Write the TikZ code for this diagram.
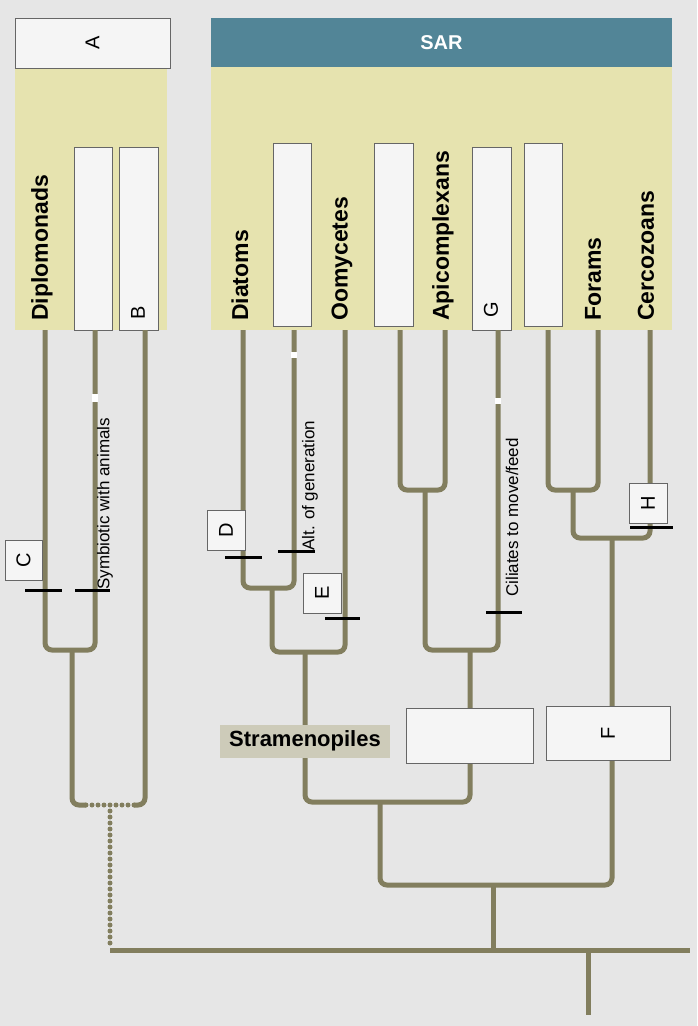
\documentclass[tikz,border=0pt]{standalone}
\usepackage{fontspec}
\setmainfont{Liberation Sans}
\usetikzlibrary{positioning}
\definecolor{bgray}{RGB}{230,230,230}
\definecolor{pyel}{RGB}{230,227,175}
\definecolor{sarblue}{RGB}{82,133,151}
\definecolor{olive}{RGB}{130,126,94}
\definecolor{lblgray}{RGB}{205,203,185}
\definecolor{boxw}{RGB}{245,245,245}
\tikzset{
  branch/.style = {draw=olive, line width=5pt, rounded corners=7pt},
  dots/.style   = {draw=olive, line width=5pt, line cap=round, dash pattern=on 0pt off 6pt},
  tick/.style   = {draw=black, line width=3pt},
  gap/.style    = {draw=white, line width=5.5pt},
  taxon/.style  = {rotate=90, anchor=west, inner sep=0pt, font=\fontsize{23}{23}\selectfont\bfseries},
  trait/.style  = {rotate=90, anchor=west, inner sep=0pt, font=\fontsize{17}{17}\selectfont},
  blank/.style  = {draw=black!60, fill=boxw, line width=0.6pt},
  letter/.style = {rotate=90, font=\fontsize{20}{20}\selectfont}
}
\begin{document}
\begin{tikzpicture}[x=1pt,y=-1pt]
\fill[bgray] (0,0) rectangle (697,1026);
\useasboundingbox (0,0) rectangle (697,1026);
% headers
\fill[pyel] (15,68) rectangle (167,330);
\draw[blank] (15,18) rectangle (170,68) node[letter, midway] (A) {A};
\fill[sarblue] (211,18) rectangle (672,67) node[midway, white, font=\fontsize{20}{20}\selectfont\bfseries] (sar) {SAR};
\fill[pyel] (211,67) rectangle (672,330);
% empty boxes
\draw[blank] (74,147) rectangle (112,330);
\draw[blank] (119,147) rectangle (158,330);
\node[letter] (B) at (138,313) {B};
\draw[blank] (273,143) rectangle (311,326);
\draw[blank] (374,143) rectangle (413,326);
\draw[blank] (472,147) rectangle (511,330);
\node[letter] (G) at (491,310) {G};
\draw[blank] (524,143) rectangle (562,326);
% taxa
\node[taxon] (dip) at (42,321) {Diplomonads};
\node[taxon] (dia) at (240,321) {Diatoms};
\node[taxon] (oom) at (342,321) {Oomycetes};
\node[taxon] (api) at (443,321) {Apicomplexans};
\node[taxon] (for) at (593,321) {Forams};
\node[taxon] (cer) at (646,321) {Cercozoans};
% diplomonad branch
\draw[branch] (45,330) -- (45,650) -- (95,650) -- (95,330);
\draw[branch] (72,650) -- (72,805) -- (86,805);
\draw[branch] (145,330) -- (145,805) -- (134,805);
\draw[dots] (86,805) -- (134,805);
\draw[dots] (110,811) -- (110,945);
\draw[branch] (110,950) -- (690,950);
\draw[branch] (588,950) -- (588,1015);
% SAR
\draw[branch] (243,330) -- (243,588) -- (294,588) -- (294,330);
\draw[branch] (272,588) -- (272,652) -- (345,652) -- (345,330);
\draw[branch] (305,652) -- (305,802) -- (470,802) -- (470,650);
\draw[branch] (400,330) -- (400,490) -- (445,490) -- (445,330);
\draw[branch] (425,490) -- (425,650) -- (498,650) -- (498,330);
\draw[branch] (548,330) -- (548,490) -- (598,490) -- (598,330);
\draw[branch] (573,490) -- (573,538) -- (650,538) -- (650,330);
\draw[branch] (380,802) -- (380,885) -- (612,885) -- (612,538);
\draw[branch] (493,885) -- (493,950);
% gaps
\draw[gap] (95,394) -- (95,402);
\draw[gap] (294,352) -- (294,358);
\draw[gap] (498,398) -- (498,404);
% traits
\draw[tick] (25,590) -- (62,590);
\draw[tick] (75,590) -- (110,590);
\draw[blank] (5,540) rectangle (42,580) node[letter, midway] (C) {C};
\node[trait] (sym) at (105,590) {Symbiotic with animals};
\draw[blank] (207,510) rectangle (245,550) node[letter, midway] (D) {D};
\draw[tick] (225,557) -- (262,557);
\draw[tick] (278,551) -- (315,551);
\node[trait] (alt) at (310,551) {Alt. of generation};
\draw[blank] (303,573) rectangle (341,613) node[letter, midway] (E) {E};
\draw[tick] (325,618) -- (360,618);
\draw[tick] (486,612) -- (522,612);
\node[trait] (cil) at (512,597) {Ciliates to move/feed};
\draw[blank] (629,483) rectangle (667,523) node[letter, midway] (H) {H};
\draw[tick] (630,527) -- (673,527);
% clade labels
\fill[lblgray] (220,725) rectangle (390,758);
\node[font=\fontsize{22}{22}\selectfont\bfseries] (str) at (305,741) {Stramenopiles};
\draw[blank] (406,708) rectangle (533,763);
\draw[blank] (546,706) rectangle (670,760) node[letter, midway] (F) {F};
\end{tikzpicture}
\end{document}
